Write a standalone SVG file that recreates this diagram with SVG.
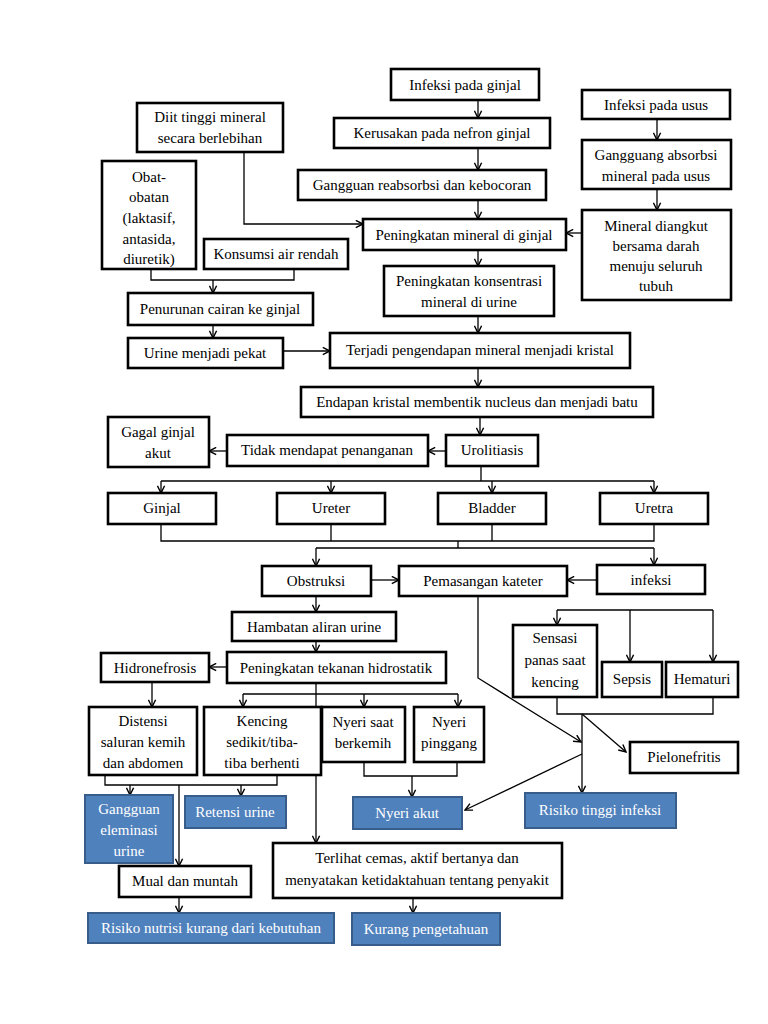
<svg xmlns="http://www.w3.org/2000/svg" width="768" height="1024" viewBox="0 0 768 1024">
<defs>
<marker id="arr" viewBox="0 0 10 10" refX="9" refY="5" markerWidth="9" markerHeight="9" markerUnits="userSpaceOnUse" orient="auto">
<path d="M1,1 L9,5 L1,9" fill="none" stroke="#000" stroke-width="1.6"/>
</marker>
<style>
.b rect{fill:#fff;stroke:#000;stroke-width:2.6}
.u rect{fill:#4f81bd;stroke:#385d8a;stroke-width:2}
text{font-family:"Liberation Serif","Times New Roman",serif;font-size:15px;text-anchor:middle;fill:#000}
.u text{fill:#fff}
.c path{fill:none;stroke:#000;stroke-width:1.3}
.c path.a{marker-end:url(#arr)}
</style>
</defs>
<rect width="768" height="1024" fill="#fff"/>
<g class="c" id="connectors">
<path class="a" d="M478,100 V118"/>
<path class="a" d="M478,148 V170"/>
<path class="a" d="M478,200 V219"/>
<path class="a" d="M657,119 V140"/>
<path class="a" d="M657,189 V210"/>
<path class="a" d="M582,233 H566"/>
<path class="a" d="M244,152 V224 H363"/>
<path class="a" d="M478,250 V266"/>
<path d="M151,269 V280 H294 V269"/>
<path class="a" d="M213,280 V293"/>
<path class="a" d="M213,325 V338"/>
<path class="a" d="M283,351 H330"/>
<path class="a" d="M478,316 V333"/>
<path class="a" d="M478,368 V387"/>
<path class="a" d="M480,417 V435"/>
<path class="a" d="M446,451 H428"/>
<path class="a" d="M227,451 H209"/>
<path d="M481,466 V481 M161,481 H654"/>
<path class="a" d="M161,481 V493"/>
<path class="a" d="M331,481 V493"/>
<path class="a" d="M492,481 V493"/>
<path class="a" d="M654,481 V493"/>
<path d="M161,524 V541 H654 V524 M331,524 V541 M492,524 V541 M458,541 V548 M316,548 H654"/>
<path class="a" d="M316,548 V566"/>
<path class="a" d="M654,548 V565"/>
<path class="a" d="M371,580 H399"/>
<path class="a" d="M597,580 H567"/>
<path class="a" d="M316,596 V612"/>
<path class="a" d="M316,641 V652"/>
<path class="a" d="M227,667 H209"/>
<path class="a" d="M152,682 V707"/>
<path class="a" d="M316,683 V843"/>
<path d="M243,694 H458"/>
<path class="a" d="M243,694 V707"/>
<path class="a" d="M364,694 V707"/>
<path class="a" d="M458,694 V707"/>
<path d="M105,775 V785 H277 V775"/>
<path class="a" d="M130,785 V795"/>
<path class="a" d="M241,785 V796"/>
<path class="a" d="M179,785 V866"/>
<path class="a" d="M179,897 V913"/>
<path d="M364,762 V776 H457 V762"/>
<path class="a" d="M412,776 V797"/>
<path class="a" d="M413,898 V913"/>
<path d="M557,610 H713"/>
<path class="a" d="M557,610 V625"/>
<path class="a" d="M630,610 V662"/>
<path class="a" d="M713,610 V662"/>
<path d="M557,697 V714 H713 V697"/>
<path class="a" d="M582,714 V793"/>
<path class="a" d="M582,714 L626,752"/>
<path class="a" d="M478,596 V678 L581,742"/>
<path class="a" d="M582,754 L465,810"/>
</g>
<g id="n1" class="b"><rect x="391" y="69" width="148" height="31"/><text x="465" y="90">Infeksi pada ginjal</text></g>
<g id="n2" class="b"><rect x="137" y="103" width="146" height="49"/><text x="210" y="122">Diit tinggi mineral</text><text x="210" y="143">secara berlebihan</text></g>
<g id="n3" class="b"><rect x="334" y="118" width="216" height="30"/><text x="442" y="138">Kerusakan pada nefron ginjal</text></g>
<g id="n4" class="b"><rect x="582" y="90" width="148" height="29"/><text x="656" y="110">Infeksi pada usus</text></g>
<g id="n5" class="b"><rect x="582" y="140" width="149" height="49"/><text x="656" y="160">Gangguang absorbsi</text><text x="656" y="181">mineral pada usus</text></g>
<g id="n6" class="b"><rect x="298" y="170" width="248" height="30"/><text x="422" y="190">Gangguan reabsorbsi dan kebocoran</text></g>
<g id="n7" class="b"><rect x="102" y="161" width="94" height="108"/><text x="149" y="182">Obat-</text><text x="149" y="202">obatan</text><text x="149" y="223">(laktasif,</text><text x="149" y="244">antasida,</text><text x="149" y="264">diuretik)</text></g>
<g id="n8" class="b"><rect x="363" y="219" width="203" height="31"/><text x="464" y="240">Peningkatan mineral di ginjal</text></g>
<g id="n9" class="b"><rect x="582" y="210" width="149" height="90"/><text x="656" y="231">Mineral diangkut</text><text x="656" y="251">bersama darah</text><text x="656" y="271">menuju seluruh</text><text x="656" y="291">tubuh</text></g>
<g id="n10" class="b"><rect x="204" y="239" width="144" height="30"/><text x="276" y="259">Konsumsi air rendah</text></g>
<g id="n11" class="b"><rect x="384" y="266" width="170" height="50"/><text x="469" y="286">Peningkatan konsentrasi</text><text x="469" y="307">mineral di urine</text></g>
<g id="n12" class="b"><rect x="128" y="293" width="185" height="32"/><text x="220" y="314">Penurunan cairan ke ginjal</text></g>
<g id="n13" class="b"><rect x="128" y="338" width="155" height="30"/><text x="205" y="358">Urine menjadi pekat</text></g>
<g id="n14" class="b"><rect x="330" y="333" width="300" height="35"/><text x="480" y="355">Terjadi pengendapan mineral menjadi kristal</text></g>
<g id="n15" class="b"><rect x="301" y="387" width="352" height="30"/><text x="477" y="407">Endapan kristal membentik nucleus dan menjadi batu</text></g>
<g id="n16" class="b"><rect x="108" y="417" width="101" height="50"/><text x="158" y="437">Gagal ginjal</text><text x="158" y="458">akut</text></g>
<g id="n17" class="b"><rect x="227" y="435" width="201" height="31"/><text x="327" y="455">Tidak mendapat penanganan</text></g>
<g id="n18" class="b"><rect x="446" y="435" width="92" height="31"/><text x="492" y="455">Urolitiasis</text></g>
<g id="n19" class="b"><rect x="108" y="493" width="108" height="31"/><text x="162" y="513">Ginjal</text></g>
<g id="n20" class="b"><rect x="277" y="493" width="108" height="31"/><text x="331" y="513">Ureter</text></g>
<g id="n21" class="b"><rect x="438" y="493" width="108" height="31"/><text x="492" y="513">Bladder</text></g>
<g id="n22" class="b"><rect x="600" y="493" width="108" height="31"/><text x="654" y="513">Uretra</text></g>
<g id="n23" class="b"><rect x="262" y="566" width="109" height="30"/><text x="316" y="586">Obstruksi</text></g>
<g id="n24" class="b"><rect x="399" y="566" width="168" height="30"/><text x="483" y="586">Pemasangan kateter</text></g>
<g id="n25" class="b"><rect x="597" y="565" width="108" height="29"/><text x="651" y="585">infeksi</text></g>
<g id="n26" class="b"><rect x="232" y="612" width="164" height="29"/><text x="314" y="632">Hambatan aliran urine</text></g>
<g id="n27" class="b"><rect x="227" y="652" width="219" height="31"/><text x="336" y="673">Peningkatan tekanan hidrostatik</text></g>
<g id="n28" class="b"><rect x="101" y="653" width="108" height="29"/><text x="155" y="673">Hidronefrosis</text></g>
<g id="n29" class="b"><rect x="513" y="625" width="84" height="72"/><text x="555" y="643">Sensasi</text><text x="555" y="665">panas saat</text><text x="555" y="687">kencing</text></g>
<g id="n30" class="b"><rect x="602" y="662" width="60" height="35"/><text x="632" y="684">Sepsis</text></g>
<g id="n31" class="b"><rect x="666" y="662" width="72" height="35"/><text x="702" y="684">Hematuri</text></g>
<g id="n32" class="b"><rect x="89" y="707" width="108" height="68"/><text x="143" y="726">Distensi</text><text x="143" y="747">saluran kemih</text><text x="143" y="768">dan abdomen</text></g>
<g id="n33" class="b"><rect x="204" y="707" width="117" height="68"/><text x="262" y="726">Kencing</text><text x="262" y="747">sedikit/tiba-</text><text x="262" y="768">tiba berhenti</text></g>
<g id="n34" class="b"><rect x="322" y="707" width="83" height="55"/><text x="363" y="727">Nyeri saat</text><text x="363" y="748">berkemih</text></g>
<g id="n35" class="b"><rect x="414" y="707" width="70" height="55"/><text x="449" y="727">Nyeri</text><text x="449" y="748">pinggang</text></g>
<g id="n36" class="b"><rect x="630" y="742" width="108" height="31"/><text x="684" y="762">Pielonefritis</text></g>
<g id="n37" class="u"><rect x="85" y="795" width="88" height="68"/><text x="129" y="814">Gangguan</text><text x="129" y="835">eleminasi</text><text x="129" y="856">urine</text></g>
<g id="n38" class="u"><rect x="185" y="796" width="101" height="32"/><text x="235" y="817">Retensi urine</text></g>
<g id="n39" class="u"><rect x="353" y="797" width="109" height="32"/><text x="407" y="818">Nyeri akut</text></g>
<g id="n40" class="u"><rect x="525" y="793" width="151" height="35"/><text x="600" y="815">Risiko tinggi infeksi</text></g>
<g id="n41" class="b"><rect x="273" y="843" width="289" height="55"/><text x="417" y="863">Terlihat cemas, aktif bertanya dan</text><text x="417" y="885">menyatakan ketidaktahuan tentang penyakit</text></g>
<g id="n42" class="b"><rect x="119" y="866" width="132" height="31"/><text x="185" y="886">Mual dan muntah</text></g>
<g id="n43" class="u"><rect x="88" y="913" width="246" height="30"/><text x="211" y="933">Risiko nutrisi kurang dari kebutuhan</text></g>
<g id="n44" class="u"><rect x="352" y="913" width="148" height="32"/><text x="426" y="934">Kurang pengetahuan</text></g>
</svg>
